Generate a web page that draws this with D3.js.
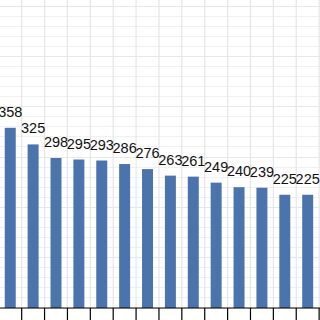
<!DOCTYPE html>
<html><head><meta charset="utf-8">
<script src="https://cdn.jsdelivr.net/npm/d3@7"></script>
<style>html,body{margin:0;padding:0;background:#fff;overflow:hidden}</style>
</head><body>
<script>
const categories = ["A","B","C","D","E","F","G","H","I","J","K","L","M","N"];
const values = [358,325,298,295,293,286,276,263,261,249,240,239,225,225];
const majorTicks = [0,100,200,300,400,500,600];
const minorTicks = d3.range(0, 620, 20);

const W = 320, H = 320;
const svg = d3.select("body").append("svg").attr("width", W).attr("height", H);

const x = d3.scaleBand().domain(categories).range([-1.2, -1.2 + 22.88*categories.length]).paddingInner(0).paddingOuter(0);
const y = d3.scaleLinear().domain([0, 600]).range([308, 6]);

svg.append("g").selectAll("line").data(minorTicks).join("line")
  .attr("x1", 0).attr("x2", W).attr("y1", d => y(d)).attr("y2", d => y(d))
  .attr("stroke", "#f1f1f1").attr("stroke-width", 1).attr("shape-rendering","crispEdges");
svg.append("g").selectAll("line").data(majorTicks).join("line")
  .attr("x1", 0).attr("x2", W).attr("y1", d => y(d)).attr("y2", d => y(d))
  .attr("stroke", "#e8e8e8").attr("stroke-width", 1).attr("shape-rendering","crispEdges");
const bounds = categories.map(c => x(c) + x.bandwidth());
svg.append("g").selectAll("line").data(bounds).join("line")
  .attr("x1", d => d).attr("x2", d => d).attr("y1", 0).attr("y2", y(0))
  .attr("stroke", "#e6e6e6").attr("stroke-width", 1.2);

const bw = x.bandwidth() * 0.48;
svg.append("g").selectAll("rect").data(values).join("rect")
  .attr("x", (d,i) => x(categories[i]) + (x.bandwidth()-bw)/2)
  .attr("width", bw)
  .attr("y", d => y(d))
  .attr("height", d => y(0) - y(d))
  .attr("fill", "#4a74ab");

svg.append("g").selectAll("text").data(values).join("text")
  .attr("x", (d,i) => x(categories[i]) + x.bandwidth()/2)
  .attr("y", d => y(d) - 11)
  .attr("text-anchor", "middle")
  .attr("font-family", "Liberation Sans, Arial, sans-serif")
  .attr("font-size", 14.5)
  .attr("fill", "#111")
  .text(d => d);

const axisG = svg.append("g").attr("transform", `translate(0,${y(0)})`);
axisG.append("line").attr("x1", 0).attr("x2", W).attr("y1", 0).attr("y2", 0)
  .attr("stroke", "#000").attr("stroke-width", 1.2);
axisG.selectAll("line.tick").data(bounds).join("line").attr("class","tick")
  .attr("x1", d => d).attr("x2", d => d).attr("y1", 0).attr("y2", 14)
  .attr("stroke", "#000").attr("stroke-width", 1.2);
</script>
</body></html>
